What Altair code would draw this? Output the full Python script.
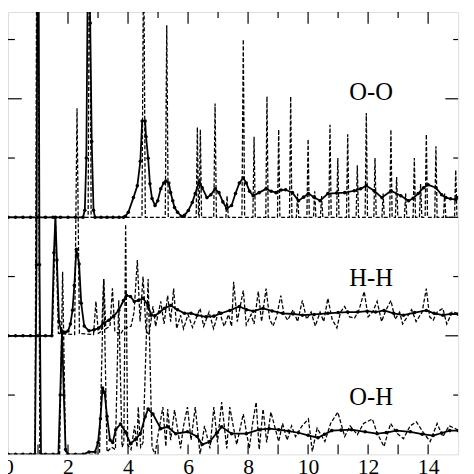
import altair as alt
import pandas as pd

# ---------------- data (r in Angstrom, g(r) per panel) ----------------
# solid lines (with dots)
oo_solid = [(0,0),(0.25,0),(0.5,0),(0.75,0),(1.0,0),(1.25,0),(1.5,0),(1.75,0),(2.0,0),(2.25,0),(2.5,0),
            (2.56,0.3),(2.61,2.5),(2.67,12),(2.74,8.2),(2.79,3.2),(2.85,0.3),(2.9,0),(3.1,0),(3.3,0),(3.5,0),(3.7,0),
            (3.85,0),(3.91,0.04),(4.01,0.21),(4.18,0.83),(4.31,1.33),(4.41,2.36),(4.47,4.06),(4.57,4.06),(4.60,3.40),
            (4.67,2.49),(4.73,1.41),(4.80,0.79),(4.90,0.50),(4.99,0.70),(5.09,1.20),(5.19,1.45),(5.26,1.53),(5.36,1.45),
            (5.42,1.04),(5.49,0.70),(5.55,0.41),(5.65,0.21),(5.78,0.04),(5.88,0.08),(6.01,0.29),(6.14,0.62),(6.24,1.0),
            (6.37,1.50),(6.47,1.25),(6.63,0.83),(6.76,0.95),(6.90,1.20),(7.03,1.04),(7.16,0.65),(7.29,0.37),(7.45,0.50),
            (7.58,1.0),(7.71,1.45),(7.84,1.66),(7.94,1.45),(8.05,1.1),(8.17,0.91),(8.37,1.04),(8.60,1.20),(8.77,1.1),
            (8.93,1.04),(9.10,1.15),(9.25,1.16),(9.48,1.04),(9.68,0.70),(9.85,0.85),(10.01,1.0),(10.20,0.85),(10.40,0.70),
            (10.66,1.0),(10.95,1.02),(11.22,1.04),(11.54,1.12),(11.75,1.2),(11.94,1.33),(12.20,1.12),(12.46,0.83),
            (12.76,1.12),(13.09,0.91),(13.35,0.70),(13.50,0.8),(13.67,1.0),(13.85,1.25),(14.00,1.37),(14.26,1.25),
            (14.45,0.95),(14.59,0.83),(14.75,0.78),(14.92,0.75),(15.0,0.83)]

hh_solid = [(0,0),(0.25,0),(0.5,0),(0.75,0),(1.0,0),(1.25,0),(1.46,0),(1.53,3.5),(1.58,5.0),(1.63,3.2),(1.70,0.6),
            (1.78,0.15),(1.9,0.15),(2.0,0.2),(2.08,0.5),(2.15,1.08),(2.21,2.12),(2.28,3.65),(2.37,3.03),(2.44,1.37),
            (2.54,0.41),(2.70,0.21),(2.87,0.25),(3.03,0.33),(3.19,0.54),(3.36,0.66),(3.52,0.83),(3.69,1.08),(3.85,1.49),
            (3.95,1.70),(4.08,1.66),(4.21,1.45),(4.34,1.49),(4.50,1.58),(4.67,1.28),(4.77,0.87),(4.90,0.85),(5.05,1.0),
            (5.22,1.16),(5.42,1.28),(5.65,1.1),(5.88,0.95),(6.10,0.95),(6.30,0.87),(6.60,0.8),(6.86,0.83),(7.10,0.95),
            (7.39,1.07),(7.71,1.24),(7.95,1.1),(8.17,1.04),(8.50,1.16),(8.80,1.05),(9.15,0.95),(9.50,0.92),(9.81,0.87),
            (10.20,0.9),(10.66,0.95),(11.0,0.98),(11.32,1.0),(11.65,1.0),(11.97,1.04),(12.25,1.0),(12.53,1.07),
            (12.85,0.95),(13.18,0.87),(13.55,0.98),(13.94,1.07),(14.20,0.95),(14.49,0.87),(14.75,0.92),(15.0,0.91)]

oh_solid = [(0,0),(0.25,0),(0.5,0),(0.75,0),(0.90,0),(0.95,8),(1.00,30),(1.05,8),(1.10,0),(1.25,0),(1.5,0),
            (1.68,0),(1.74,2.5),(1.80,5.2),(1.86,2.5),(1.92,0.2),(2.0,0),(2.25,0),(2.5,0),(2.70,0.1),(2.90,0.1),
            (3.0,0.5),(3.08,1.5),(3.15,2.8),(3.22,2.6),(3.30,1.6),(3.40,0.6),(3.49,0.5),(3.59,1.04),(3.75,1.28),
            (3.91,0.95),(4.08,0.45),(4.24,0.62),(4.41,0.87),(4.57,1.58),(4.67,1.91),(4.83,1.70),(5.09,1.08),
            (5.32,1.16),(5.59,0.87),(5.98,0.95),(6.30,0.75),(6.47,0.41),(6.73,0.54),(6.95,0.9),(7.12,1.16),
            (7.45,0.87),(7.94,0.87),(8.37,1.04),(8.70,1.08),(9.02,1.04),(9.35,0.98),(9.68,0.91),(10.0,0.8),
            (10.33,0.70),(10.55,0.85),(10.79,1.0),(11.10,1.02),(11.45,1.04),(11.90,0.95),(12.30,0.87),(12.60,0.92),
            (12.95,1.0),(13.41,0.95),(13.80,0.85),(14.17,0.79),(14.45,0.9),(14.72,1.0),(15.0,1.0)]

# dashed lines
# O-O dashed: sharp peaks on a zero baseline -> (centre, height, half-width)
oo_dash_peaks = [(2.72,14,0.05),(4.52,12,0.055),(5.29,8.1,0.05),(6.31,3.8,0.04),(6.41,3.7,0.04),(6.90,4.8,0.045),
                 (7.30,0.9,0.04),(7.84,7.5,0.045),(8.20,3.4,0.04),(8.63,5.1,0.04),(9.02,3.7,0.04),(9.42,5.1,0.04),
                 (9.65,1.0,0.04),(10.0,3.3,0.04),(10.22,1.1,0.04),(10.45,0.9,0.04),(10.73,3.9,0.04),(10.99,2.5,0.04),
                 (11.32,3.5,0.04),(11.64,2.2,0.04),(11.94,4.4,0.04),(12.23,2.5,0.04),(12.50,1.0,0.04),(12.76,3.7,0.04),
                 (12.95,1.7,0.04),(13.25,1.0,0.04),(13.54,2.5,0.04),(13.75,1.4,0.04),(13.94,3.5,0.04),(14.26,3.0,0.04),
                 (14.55,1.0,0.04),(14.92,2.0,0.04)]

hh_dash = [(0,0),(1.48,0),(1.58,5.0),(1.68,0.1),(2.22,0.05),(2.30,9.6),(2.38,0.1),(2.85,0.05),(2.93,1.45),(3.01,0.1),
           (3.12,0.2),(3.19,2.4),(3.26,0.3),(3.40,0.4),(3.48,2.0),(3.56,0.2),(3.75,0.05),(3.85,0.3),(4.10,0.4),
           (4.20,1.0),(4.31,3.2),(4.40,0.6),(4.50,2.5),(4.60,0.2),(4.70,0.05),(4.83,1.24),(4.92,0.4),(5.09,1.45),
           (5.20,0.5),(5.32,1.70),(5.42,0.6),(5.52,1.99),(5.62,0.3),(5.75,0.87),(5.85,0.3),(6.00,0.9),(6.15,0.35),
           (6.40,1.16),(6.52,0.4),(6.70,1.0),(6.85,0.3),(7.03,1.08),(7.20,0.4),(7.35,0.9),(7.45,0.4),(7.52,2.28),
           (7.64,0.6),(7.84,1.91),(7.94,0.46),(8.10,0.9),(8.20,0.5),(8.34,1.87),(8.45,0.6),(8.60,1.99),(8.72,0.7),
           (8.83,0.41),(8.95,0.8),(9.09,1.70),(9.20,0.9),(9.32,0.66),(9.50,1.1),(9.65,0.6),(9.81,1.49),(9.95,0.7),
           (10.10,1.0),(10.24,0.41),(10.40,1.0),(10.52,0.6),(10.66,1.58),(10.80,0.7),(10.96,0.33),(11.08,1.0),
           (11.22,1.24),(11.38,0.8),(11.55,0.75),(11.70,1.1),(11.87,1.87),(12.00,0.8),(12.15,1.0),(12.30,1.45),
           (12.45,0.6),(12.60,1.1),(12.76,1.49),(12.90,0.7),(13.05,1.0),(13.15,0.5),(13.28,0.75),(13.45,1.1),
           (13.60,0.6),(13.80,1.0),(13.94,1.99),(14.05,0.8),(14.17,0.66),(14.30,1.0),(14.49,1.16),(14.62,0.5),
           (14.80,1.0),(15.0,0.95)]

oh_dash = [(0,0),(0.90,0),(0.98,30),(1.06,0),(1.72,0),(1.82,7.7),(1.92,0),(3.05,0),(3.19,7.4),(3.30,0.1),(3.45,0.3),
           (3.58,0.2),(3.69,6.5),(3.80,0.3),(3.86,0.5),(3.92,9.7),(3.99,0.4),(4.10,0.2),(4.22,1.2),(4.30,0.3),
           (4.34,2.0),(4.42,0.3),(4.50,0.5),(4.67,7.4),(4.80,0.3),(4.90,0),(5.00,0.8),(5.16,1.99),(5.26,0.33),
           (5.32,1.91),(5.42,0.6),(5.55,1.87),(5.75,0.25),(5.85,1.2),(5.98,1.99),(6.10,0.6),(6.24,1.99),(6.40,0),
           (6.55,1.2),(6.73,0.25),(6.86,1.99),(6.98,0.5),(7.12,2.20),(7.29,0.25),(7.39,1.99),(7.62,0.41),(7.84,1.70),
           (8.04,0.25),(8.15,1.3),(8.27,2.20),(8.37,0.2),(8.50,1.91),(8.62,0.5),(8.76,1.78),(9.02,0.54),(9.15,1.3),
           (9.30,0.6),(9.45,1.2),(9.58,0.75),(9.80,1.2),(10.01,1.49),(10.14,0.12),(10.30,1.1),(10.56,0.54),
           (10.75,1.3),(10.99,1.78),(11.22,0.75),(11.40,1.2),(11.64,0.83),(11.85,1.3),(12.14,1.49),(12.30,0.9),
           (12.53,0.33),(12.75,1.3),(12.95,0.9),(13.18,0.66),(13.40,1.2),(13.61,1.37),(13.85,0.9),(14.07,0.54),
           (14.30,1.3),(14.49,0.75),(14.70,1.2),(14.92,1.08),(15.0,1.0)]

panel_offsets = {"O-H": 0.0, "H-H": 5.0, "O-O": 10.0}
panel_labels = [("O-O", 12.1, 5.27), ("H-H", 12.1, 2.45), ("O-H", 12.1, 2.40)]
x_tick_labels = [0, 2, 4, 6, 8, 10, 12, 14]

# ---------------- build tables ----------------
def oo_dash_points():
    pts = [(0.0, 0.0)]
    for c, h, w in oo_dash_peaks:
        pts += [(c - w, 0.0), (c, h), (c + w, 0.0)]
    pts.append((15.0, 0.0))
    return pts

rows_solid, rows_dash = [], []
for name, pts in [("O-O", oo_solid), ("H-H", hh_solid), ("O-H", oh_solid)]:
    for i, (r, g) in enumerate(pts):
        rows_solid.append({"pair": name, "i": i, "r": r, "y": g + panel_offsets[name]})
for name, pts in [("O-O", oo_dash_points()), ("H-H", hh_dash), ("O-H", oh_dash)]:
    for i, (r, g) in enumerate(pts):
        rows_dash.append({"pair": name, "i": i, "r": r, "y": g + panel_offsets[name]})
solid_df = pd.DataFrame(rows_solid)
dash_df = pd.DataFrame(rows_dash)
label_df = pd.DataFrame([{"t": t, "r": r, "y": g + panel_offsets[t]} for t, r, g in panel_labels])

W, H = 458, 450
Y_MAX = 18.66
xs = alt.Scale(domain=[0, 15], nice=False, zero=False)
ys = alt.Scale(domain=[0, Y_MAX], nice=False, zero=False)
xaxis = alt.Axis(values=x_tick_labels, ticks=False, domain=False, grid=False, title=None,
                 labelFont="Liberation Serif", labelFontSize=22, labelColor="black",
                 labelPadding=3, labelBaseline="top", labelFlush=False, labelOverlap=False)

X = alt.X("r:Q", scale=xs, axis=xaxis)
Y = alt.Y("y:Q", scale=ys, axis=None)

dashed = alt.Chart(dash_df).mark_line(color="black", strokeWidth=1.3, strokeDash=[4, 2], clip=True).encode(
    x=X, y=Y, detail="pair:N", order="i:Q")
solid = alt.Chart(solid_df).mark_line(color="black", strokeWidth=1.8, clip=True).encode(
    x=X, y=Y, detail="pair:N", order="i:Q")
dots = alt.Chart(solid_df).mark_circle(color="black", size=13, opacity=1, clip=True).encode(x=X, y=Y)
labels = alt.Chart(label_df).mark_text(font="Liberation Serif", fontSize=25, color="black",
                                       align="center", baseline="middle").encode(x=X, y=Y, text="t:N")

# frame tick marks (inward)
top_major = pd.DataFrame({"r": [2, 4, 6, 8, 10, 12, 14]})
top_minor = pd.DataFrame({"r": [1, 3, 5, 7, 9, 11, 13]})
bottom_t = pd.DataFrame({"r": list(range(1, 15))})
side_major = pd.DataFrame({"y": [5, 10, 15]})
side_minor = pd.DataFrame({"y": [2.5, 7.5, 12.5, 17.5]})

def vt(df, y0, y1):
    return alt.Chart(df).mark_rule(color="black", strokeWidth=1.2).encode(x=X, y=alt.value(y0), y2=alt.value(y1))

def ht(df, x0, x1):
    return alt.Chart(df).mark_rule(color="black", strokeWidth=1.2).encode(
        y=alt.Y("y:Q", scale=ys, axis=None), x=alt.value(x0), x2=alt.value(x1))

ticks = [vt(top_major, 0, 12), vt(top_minor, 0, 6), vt(bottom_t, H, H - 10),
         ht(side_major, 0, 14), ht(side_minor, 0, 7), ht(side_major, W, W - 13), ht(side_minor, W, W - 5)]

chart = alt.layer(dashed, solid, dots, labels, *ticks).properties(
    width=W, height=H,
    autosize=alt.AutoSizeParams(type="none"),
    padding={"left": 0, "top": 0, "right": 8, "bottom": 20},
).configure_view(stroke="black", strokeWidth=1.2).configure(background="white")

chart.save("out.html", embed_options={"renderer": "svg", "actions": False})
